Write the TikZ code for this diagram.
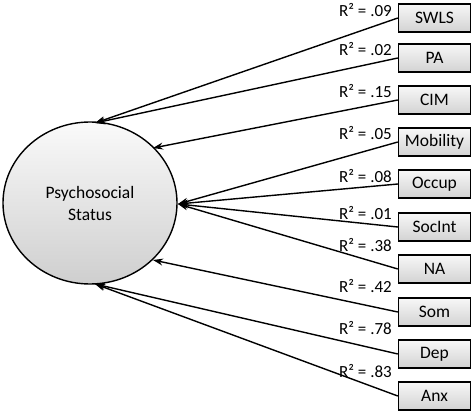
\documentclass[tikz,border=0pt]{standalone}
\usepackage{fontspec}
\setmainfont{Carlito}
\usetikzlibrary{arrows.meta,shapes.geometric}
\begin{document}
\begin{tikzpicture}[x=1pt,y=-1pt,
  obs/.style={draw=black, line width=1.4pt, rectangle, minimum width=72pt, minimum height=28pt,
    top color=gray!6, bottom color=gray!35, font=\fontsize{17.5}{19}\selectfont, inner sep=0pt},
  lat/.style={draw=black, line width=1.4pt, ellipse, minimum width=174pt, minimum height=162pt,
    top color=gray!4, bottom color=gray!38, font=\fontsize{17.5}{22}\selectfont, align=center, inner sep=0pt},
  rlab/.style={anchor=east, font=\fontsize{17}{19}\selectfont, inner sep=0pt},
  load/.style={line width=1.4pt, -{Stealth[length=10pt,width=7pt]}}]
\useasboundingbox (0,0) rectangle (474,412);
\node[lat] (ps) at (90,203) {Psychosocial\\Status};
\coordinate (t1) at (95,123);
\coordinate (t2) at (153,148);
\coordinate (t3) at (178,204);
\coordinate (t4) at (153,260);
\coordinate (t5) at (95,284);
\node[obs] (swls) at (434.5,18) {SWLS};
\node[obs] (pa) at (434.5,58) {PA};
\node[obs] (cim) at (434.5,100) {CIM};
\node[obs] (mob) at (434.5,142) {Mobility};
\node[obs] (occ) at (434.5,184) {Occup};
\node[obs] (soc) at (434.5,227) {SocInt};
\node[obs] (na) at (434.5,269) {NA};
\node[obs] (som) at (434.5,312) {Som};
\node[obs] (dep) at (434.5,354) {Dep};
\node[obs] (anx) at (434.5,396) {Anx};
\draw[load] (swls.west) -- (t1);
\draw[load] (pa.west) -- (t1);
\draw[load] (cim.west) -- (t2);
\draw[load] (mob.west) -- (t3);
\draw[load] (occ.west) -- (t3);
\draw[load] (soc.west) -- (t3);
\draw[load] (na.west) -- (t3);
\draw[load] (som.west) -- (t4);
\draw[load] (dep.west) -- (t5);
\draw[load] (anx.west) -- (t5);
\node[rlab] (l1) at (392,10) {R² = .09};
\node[rlab] (l2) at (392,49) {R² = .02};
\node[rlab] (l3) at (392,91) {R² = .15};
\node[rlab] (l4) at (392,133) {R² = .05};
\node[rlab] (l5) at (392,176) {R² = .08};
\node[rlab] (l6) at (392,213) {R² = .01};
\node[rlab] (l7) at (392,245) {R² = .38};
\node[rlab] (l8) at (392,286) {R² = .42};
\node[rlab] (l9) at (392,328) {R² = .78};
\node[rlab] (l10) at (392,371) {R² = .83};
\end{tikzpicture}
\end{document}
